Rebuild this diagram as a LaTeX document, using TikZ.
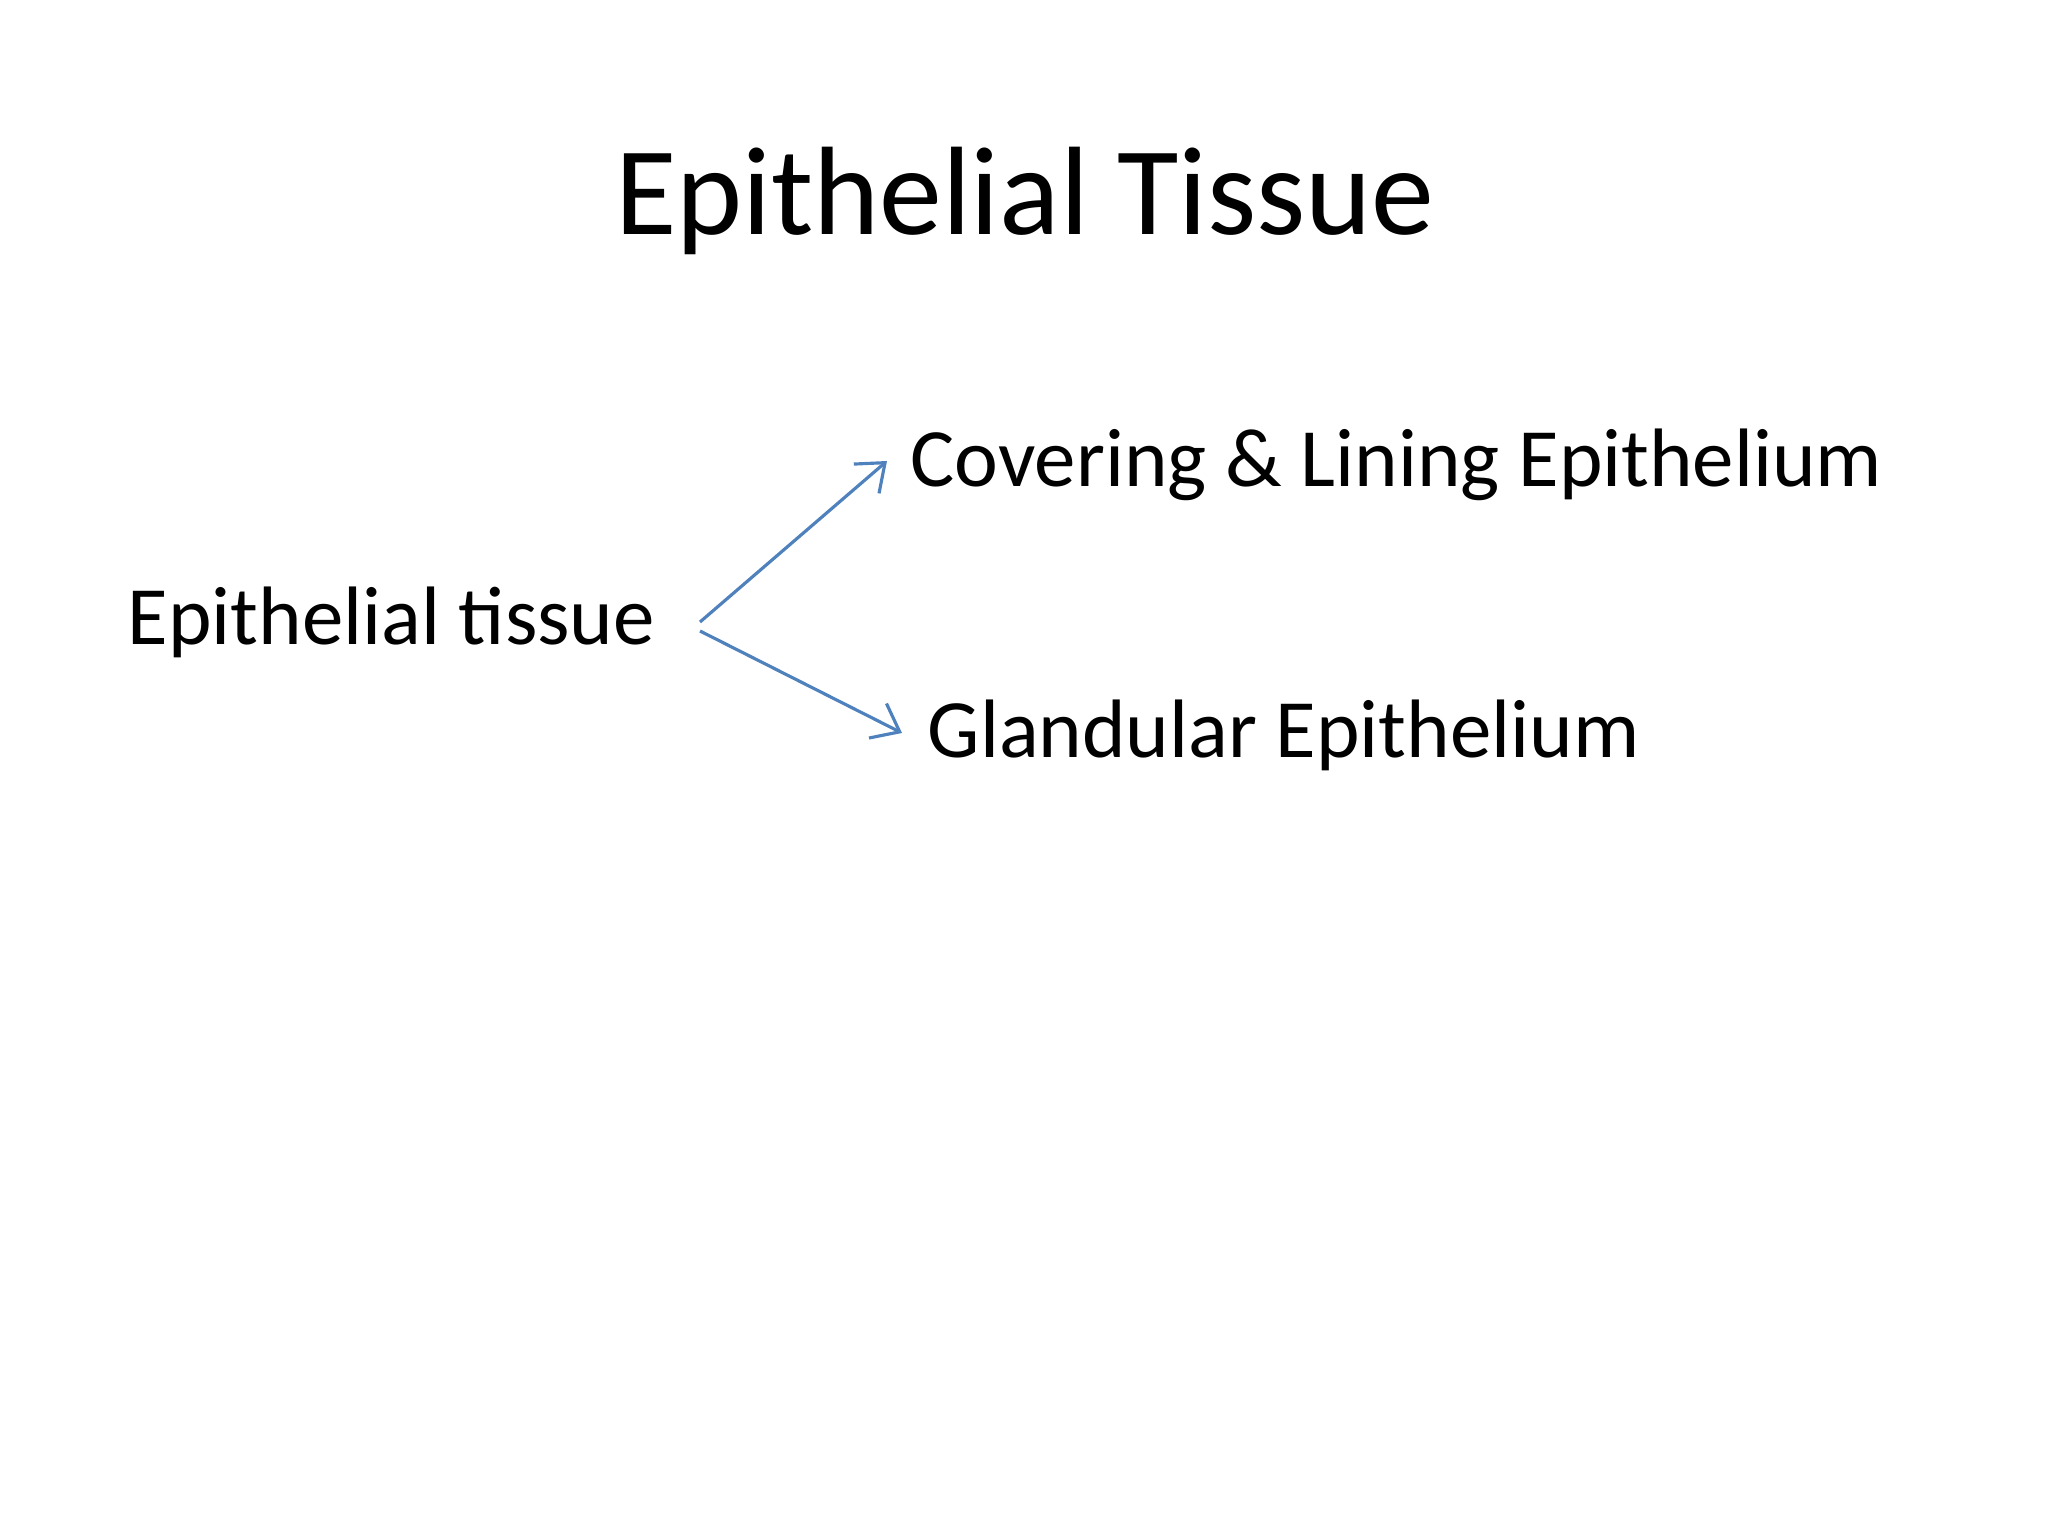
\documentclass[tikz,border=0pt]{standalone}
\usepackage{fontspec}
\setmainfont{Carlito}
\usetikzlibrary{arrows.meta}
\definecolor{arrowblue}{RGB}{79,129,189}
\tikzset{lbl/.style={anchor=base west,inner sep=0pt,font=\fontsize{23.6pt}{28pt}\selectfont},
conn/.style={draw=arrowblue,line width=0.9pt,-{Straight Barb[length=7pt,width=11pt]}}}
\begin{document}
\begin{tikzpicture}
\useasboundingbox (0,0) rectangle (20.48,-15.36);
\node[anchor=base,inner sep=0pt,font=\fontsize{35.8pt}{42pt}\selectfont] (title) at (10.25,-2.35) {Epithelial Tissue};
\node[lbl] (src) at (1.27,-6.44) {Epithelial tissue};
\node[lbl] (cov) at (9.10,-4.86) {Covering \& Lining Epithelium};
\node[lbl] (gla) at (9.27,-7.57) {Glandular Epithelium};
\coordinate (s1) at (7.00,-6.22);
\coordinate (s2) at (7.00,-6.31);
\coordinate (e1) at (8.87,-4.61);
\coordinate (e2) at (9.02,-7.33);
\draw[conn] (s1) -- (e1);
\draw[conn] (s2) -- (e2);
\end{tikzpicture}
\end{document}
